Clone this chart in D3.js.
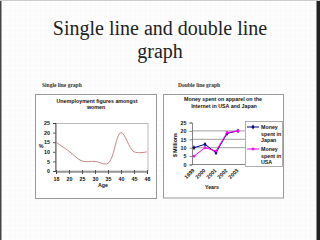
<!DOCTYPE html>
<html>
<head>
<meta charset="utf-8">
<script src="https://cdn.jsdelivr.net/npm/d3@7"></script>
<style>
  body { margin: 0; background: #fff; }
  svg text { font-family: "Liberation Sans", Arial, sans-serif; }
</style>
</head>
<body>
<div id="container"></div>
<script>
// data
var ages = ["18", "20", "25", "30", "35", "40", "45", "48"];
var unemployment = [15, 10.3, 5.2, 5, 4, 20, 10, 10];
var pctTicks = [0, 5, 10, 15, 20, 25];

var years = ["1999", "2000", "2001", "2002", "2003"];
var japan = [10, 12, 7, 18.5, 20];
var usa = [5, 10, 8, 19, 20];
var moneyTicks = [0, 5, 10, 15, 20, 25];
var moneyGrid = [10, 15, 20];

var svg = d3.select("#container").append("svg")
  .attr("width", 320)
  .attr("height", 240);

// faint slide grid
var defs = svg.append("defs");
var pat = defs.append("pattern")
  .attr("id", "grid")
  .attr("width", 5).attr("height", 5)
  .attr("patternUnits", "userSpaceOnUse");
pat.append("path")
  .attr("d", "M5 0 L0 0 L0 5")
  .attr("fill", "none")
  .attr("stroke", "#f1f1f1")
  .attr("stroke-width", 0.6);
svg.append("rect").attr("width", 320).attr("height", 240).attr("fill", "#fdfdfd");
svg.append("rect").attr("width", 320).attr("height", 240).attr("fill", "url(#grid)");

// slide edges
svg.append("rect").attr("x", 0).attr("y", 0).attr("width", 1.5).attr("height", 240).attr("fill", "#444");
svg.append("rect").attr("x", 316.5).attr("y", 0).attr("width", 3.5).attr("height", 240).attr("fill", "#222");
svg.append("rect").attr("x", 0).attr("y", 0).attr("width", 320).attr("height", 1).attr("fill", "#ccc");

// title
svg.append("text")
  .attr("x", 160).attr("y", 35)
  .attr("text-anchor", "middle")
  .style("font-family", "'Liberation Serif', 'Times New Roman', serif")
  .style("font-size", "20px")
  .attr("fill", "#222")
  .text("Single line and double line");
svg.append("text")
  .attr("x", 160).attr("y", 58)
  .attr("text-anchor", "middle")
  .style("font-family", "'Liberation Serif', 'Times New Roman', serif")
  .style("font-size", "20px")
  .attr("fill", "#222")
  .text("graph");

// panel captions
function caption(x, t) {
  svg.append("text")
    .attr("x", x).attr("y", 87)
    .style("font-family", "'Liberation Serif', serif")
    .style("font-size", "5.5px")
    .style("font-weight", "bold")
    .attr("fill", "#333")
    .text(t);
}
caption(42, "Single line graph");
caption(178, "Double line graph");

// panel boxes
svg.append("rect").attr("x", 35.5).attr("y", 94.5).attr("width", 121).attr("height", 104)
  .attr("fill", "#fff").attr("stroke", "#999").attr("stroke-width", 1);
svg.append("rect").attr("x", 163.5).attr("y", 94.5).attr("width", 120).attr("height", 103.5)
  .attr("fill", "#fff").attr("stroke", "#999").attr("stroke-width", 1);

function small(x, y, t, anchor) {
  return svg.append("text")
    .attr("x", x).attr("y", y)
    .attr("text-anchor", anchor || "middle")
    .style("font-size", "5.3px")
    .style("font-weight", "bold")
    .attr("fill", "#111")
    .text(t);
}

// ---------- single line graph ----------
var x1 = d3.scalePoint().domain(ages).range([56, 147]);
var y1 = d3.scaleLinear().domain([0, 25]).range([171, 123]);

small(97, 103, "Unemployment figures amongst");
small(96, 109, "women");

// plot frame
svg.append("rect").attr("x", 55.5).attr("y", 123.5).attr("width", 92.5).attr("height", 47.5)
  .attr("fill", "none").attr("stroke", "#aaa").attr("stroke-width", 0.8);

var yAxis1 = svg.append("g")
  .attr("transform", "translate(55.5,0)")
  .call(d3.axisLeft(y1).tickValues(pctTicks).tickSize(2.5).tickPadding(3));
var xAxis1 = svg.append("g")
  .attr("transform", "translate(0,171.5)")
  .call(d3.axisBottom(x1).tickSize(2.5).tickPadding(3));
[yAxis1, xAxis1].forEach(function(g) {
  g.select(".domain").attr("stroke", "#333").attr("stroke-width", 0.8);
  g.selectAll(".tick line").attr("stroke", "#333").attr("stroke-width", 0.8);
  g.selectAll(".tick text")
    .style("font-family", "'Liberation Sans', Arial, sans-serif")
    .style("font-size", "5.3px").style("font-weight", "bold").attr("fill", "#111");
});
xAxis1.selectAll(".tick line").attr("y1", -1.5);

svg.append("path")
  .datum(unemployment)
  .attr("fill", "none")
  .attr("stroke", "#c98585")
  .attr("stroke-width", 1)
  .attr("d", d3.line()
    .x(function(d, i) { return x1(ages[i]); })
    .y(function(d) { return y1(d); })
    .curve(d3.curveCatmullRom.alpha(0.5)));

small(41, 148, "%");
small(103, 187, "Age");

// ---------- double line graph ----------
var x2 = d3.scalePoint().domain(years).range([194, 238]);
var y2 = d3.scaleLinear().domain([0, 25]).range([164.5, 122.5]);

small(223, 101, "Money spent on apparel on the");
small(224, 108, "Internet in USA and Japan");

svg.append("g").selectAll("line")
  .data(moneyGrid)
  .enter().append("line")
  .attr("x1", 192).attr("x2", 245)
  .attr("y1", function(d) { return y2(d); })
  .attr("y2", function(d) { return y2(d); })
  .attr("stroke", "#888").attr("stroke-width", 0.8);

var yAxis2 = svg.append("g")
  .attr("transform", "translate(192,0)")
  .call(d3.axisLeft(y2).tickValues(moneyTicks).tickSize(2.5).tickPadding(3));
var xAxis2 = svg.append("g")
  .attr("transform", "translate(0," + y2(0) + ")")
  .call(d3.axisBottom(x2).tickSize(0).tickPadding(3));
xAxis2.select(".domain").attr("d", "M192,0H245");
[yAxis2, xAxis2].forEach(function(g) {
  g.select(".domain").attr("stroke", "#666").attr("stroke-width", 0.8);
  g.selectAll(".tick line").attr("stroke", "#666").attr("stroke-width", 0.8);
  g.selectAll(".tick text")
    .style("font-family", "'Liberation Sans', Arial, sans-serif")
    .style("font-size", "5.3px").style("font-weight", "bold").attr("fill", "#111");
});
xAxis2.selectAll(".tick text")
  .attr("text-anchor", "end")
  .attr("dy", "0.35em")
  .attr("transform", "translate(-3,3) rotate(-45)");

var series = [
  { name: ["Money", "spent in", "Japan"], values: japan, color: "#000080", marker: "diamond" },
  { name: ["Money", "spent in", "USA"], values: usa, color: "#ff00ff", marker: "square" }
];

series.forEach(function(s) {
  svg.append("path")
    .datum(s.values)
    .attr("fill", "none")
    .attr("stroke", s.color)
    .attr("stroke-width", 1)
    .attr("d", d3.line()
      .x(function(d, i) { return x2(years[i]); })
      .y(function(d) { return y2(d); }));
  svg.selectAll(null)
    .data(s.values)
    .enter().append("path")
    .attr("transform", function(d, i) { return "translate(" + x2(years[i]) + "," + y2(d) + ")"; })
    .attr("d", d3.symbol().type(s.marker === "diamond" ? d3.symbolDiamond : d3.symbolSquare).size(s.marker === "diamond" ? 7 : 6))
    .attr("fill", s.color);
});

small(177, 145, "$ Millions").attr("transform", "rotate(-90,177,145)");
small(212, 189, "Years");

// legend
svg.append("rect").attr("x", 245.5).attr("y", 121.5).attr("width", 37).attr("height", 45)
  .attr("fill", "#fff").attr("stroke", "#999").attr("stroke-width", 0.8);
series.forEach(function(s, i) {
  var ly = 127 + i * 22;
  svg.append("line").attr("x1", 247).attr("x2", 259).attr("y1", ly).attr("y2", ly)
    .attr("stroke", s.color).attr("stroke-width", 1);
  svg.append("path")
    .attr("transform", "translate(253," + ly + ")")
    .attr("d", d3.symbol().type(s.marker === "diamond" ? d3.symbolDiamond : d3.symbolSquare).size(s.marker === "diamond" ? 7 : 6))
    .attr("fill", s.color);
  s.name.forEach(function(t, j) {
    small(261, ly + 2 + j * 6.5, t, "start");
  });
});
</script>
</body>
</html>
